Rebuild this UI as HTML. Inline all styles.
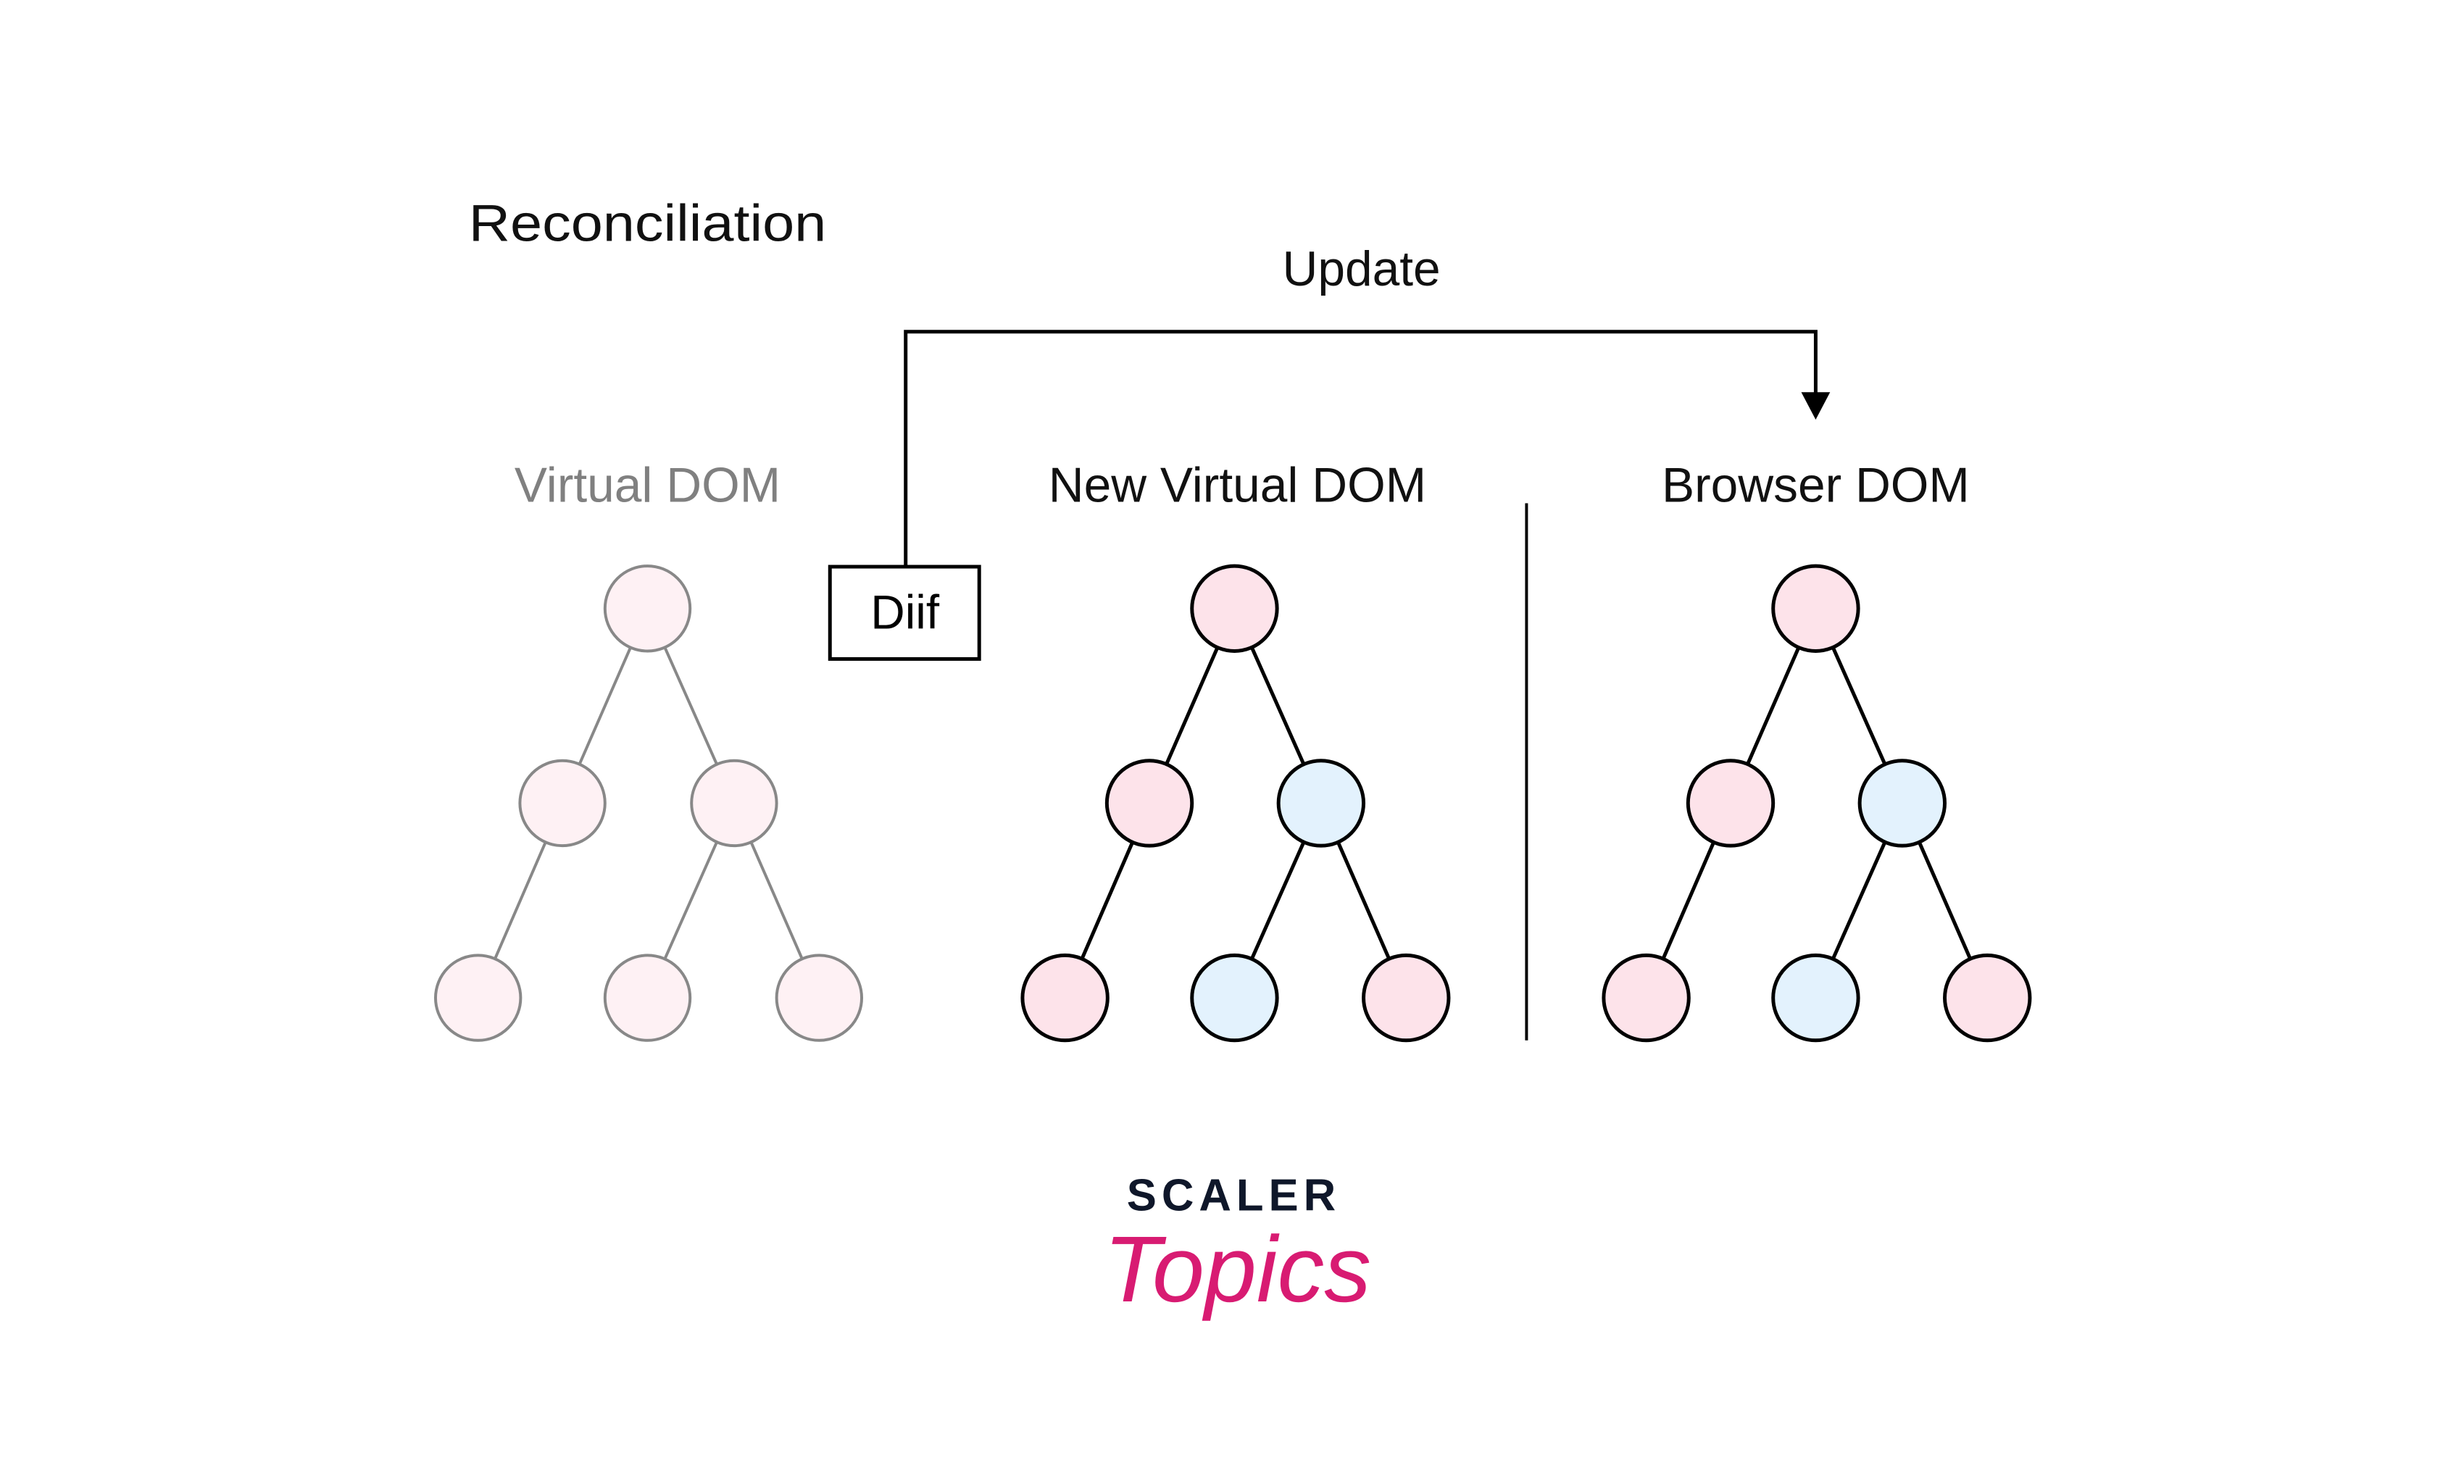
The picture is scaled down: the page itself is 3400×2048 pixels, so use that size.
<!DOCTYPE html>
<html><head><meta charset="utf-8"><style>
html,body{margin:0;padding:0;background:#fff}
svg{display:block}
text{font-family:"Liberation Sans",sans-serif}
</style></head><body>
<svg width="3400" height="2048" viewBox="0 0 3400 2048" xmlns="http://www.w3.org/2000/svg">
<rect width="3400" height="2048" fill="#fff"/>
<g transform="scale(0.995)">
<text x="650" y="334" font-size="72" fill="#111" textLength="496" lengthAdjust="spacingAndGlyphs">Reconciliation</text>
<text x="1888" y="396" font-size="68" fill="#111" text-anchor="middle">Update</text>
<polyline points="1256,785 1256,460 2518,460 2518,548" fill="none" stroke="#000" stroke-width="5"/>
<polygon points="2498,544 2538,544 2518,582" fill="#000"/>
<rect x="1151" y="786" width="207" height="128" fill="#fff" stroke="#000" stroke-width="5"/>
<text x="1255" y="872" font-size="66" fill="#000" text-anchor="middle">Diif</text>
<text x="898" y="696" font-size="68" fill="#808080" text-anchor="middle">Virtual DOM</text>
<text x="1716" y="696" font-size="68" fill="#111" text-anchor="middle">New Virtual DOM</text>
<text x="2518" y="696" font-size="68" fill="#111" text-anchor="middle">Browser DOM</text>
<line x1="2117" y1="698" x2="2117" y2="1443" stroke="#000" stroke-width="4"/>
<g stroke="#888" stroke-width="4">
<line x1="898" y1="844" x2="780" y2="1114"/><line x1="898" y1="844" x2="1018" y2="1114"/>
<line x1="780" y1="1114" x2="663" y2="1384"/><line x1="1018" y1="1114" x2="898" y2="1384"/><line x1="1018" y1="1114" x2="1136" y2="1384"/>
<g fill="#fef1f4">
<circle cx="898" cy="844" r="59"/><circle cx="780" cy="1114" r="59"/><circle cx="1018" cy="1114" r="59"/>
<circle cx="663" cy="1384" r="59"/><circle cx="898" cy="1384" r="59"/><circle cx="1136" cy="1384" r="59"/>
</g></g>
<g transform="translate(814,0)" stroke="#000" stroke-width="5">
<line x1="898" y1="844" x2="780" y2="1114"/><line x1="898" y1="844" x2="1018" y2="1114"/>
<line x1="780" y1="1114" x2="663" y2="1384"/><line x1="1018" y1="1114" x2="898" y2="1384"/><line x1="1018" y1="1114" x2="1136" y2="1384"/>
<circle cx="898" cy="844" r="59" fill="#fde3ea"/><circle cx="780" cy="1114" r="59" fill="#fde3ea"/><circle cx="1018" cy="1114" r="59" fill="#e3f2fd"/>
<circle cx="663" cy="1384" r="59" fill="#fde3ea"/><circle cx="898" cy="1384" r="59" fill="#e3f2fd"/><circle cx="1136" cy="1384" r="59" fill="#fde3ea"/>
</g>
<g transform="translate(1620,0)" stroke="#000" stroke-width="5">
<line x1="898" y1="844" x2="780" y2="1114"/><line x1="898" y1="844" x2="1018" y2="1114"/>
<line x1="780" y1="1114" x2="663" y2="1384"/><line x1="1018" y1="1114" x2="898" y2="1384"/><line x1="1018" y1="1114" x2="1136" y2="1384"/>
<circle cx="898" cy="844" r="59" fill="#fde3ea"/><circle cx="780" cy="1114" r="59" fill="#fde3ea"/><circle cx="1018" cy="1114" r="59" fill="#e3f2fd"/>
<circle cx="663" cy="1384" r="59" fill="#fde3ea"/><circle cx="898" cy="1384" r="59" fill="#e3f2fd"/><circle cx="1136" cy="1384" r="59" fill="#fde3ea"/>
</g>
<text x="1711" y="1679" font-size="62" font-weight="bold" fill="#0f172a" text-anchor="middle" letter-spacing="7">SCALER</text>
<text x="1716" y="1805" font-size="130" font-style="italic" fill="#d81b72" text-anchor="middle" font-family="Liberation Serif, serif">Topics</text>
</g>
</svg>
</body></html>
